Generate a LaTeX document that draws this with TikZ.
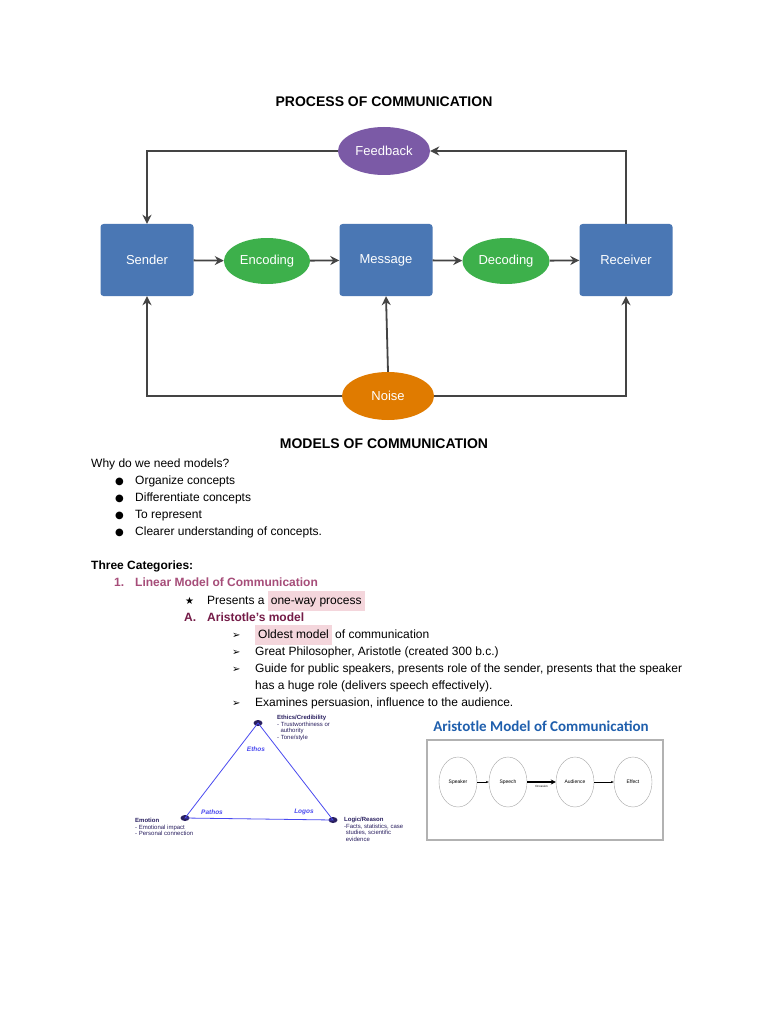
\documentclass[tikz,border=0pt]{standalone}
\usepackage{fontspec}
\setmainfont{Liberation Sans}
\newfontfamily\symf{DejaVu Sans}
\newfontfamily\calf{Carlito}
\usetikzlibrary{arrows.meta,shapes.geometric}
\definecolor{boxblue}{HTML}{4A77B4}
\definecolor{fbpurple}{HTML}{7B5AA6}
\definecolor{encgreen}{HTML}{3DB04B}
\definecolor{noiseorg}{HTML}{E07B00}
\definecolor{lnk}{HTML}{444444}
\definecolor{pinkt}{HTML}{A64D79}
\definecolor{darkred}{HTML}{741B47}
\definecolor{hl}{HTML}{F4D6DC}
\definecolor{tri}{HTML}{4A4AF0}
\definecolor{navy}{HTML}{2A2060}
\definecolor{titblue}{HTML}{1F5FAD}
\begin{document}
\begin{tikzpicture}[x=1pt,y=-1pt,
  box/.style={rectangle,rounded corners=3pt,fill=boxblue,text=white,minimum width=93pt,minimum height=72pt,font=\fontsize{13}{15}\selectfont},
  ell/.style={ellipse,text=white,minimum width=76pt,minimum height=46pt,font=\fontsize{13}{15}\selectfont},
  big/.style={ellipse,text=white,minimum width=92pt,minimum height=48pt,font=\fontsize{13}{15}\selectfont},
  con/.style={draw=lnk,line width=1.8pt,-{Stealth[length=9pt,width=9pt]}},
  body/.style={anchor=base west,inner sep=0pt,font=\fontsize{12}{14}\selectfont},
  sym/.style={anchor=base west,inner sep=0pt,font=\symf\fontsize{10}{12}\selectfont},
  title/.style={font=\bfseries\fontsize{14}{16}\selectfont,inner sep=0pt},
  hlt/.style={fill=hl,inner sep=1pt},
  dot/.style={ellipse,fill=navy,minimum width=9pt,minimum height=6pt,inner sep=0pt},
  tl/.style={anchor=north west,inner sep=0pt,align=left,text=navy,font=\fontsize{6}{6.5}\selectfont},
  circ/.style={ellipse,draw=gray!70,minimum width=38pt,minimum height=50pt,inner sep=0pt,font=\fontsize{5}{6}\selectfont}]
\useasboundingbox (0,0) rectangle (768,1024);
\fill[white] (0,0) rectangle (768,1024);
\node[title] (t1) at (384,102) {PROCESS OF COMMUNICATION};
% diagram
\node[big,fill=fbpurple] (fb) at (384,151) {Feedback};
\node[box] (snd) at (147,260) {Sender};
\node[ell,fill=encgreen] (enc) at (267,261) {Encoding};
\node[box] (msg) at (386,260) {Message};
\node[ell,fill=encgreen] (dec) at (506,261) {Decoding};
\node[box] (rcv) at (626,260) {Receiver};
\node[big,fill=noiseorg] (noi) at (388,396) {Noise};
\draw[con] (snd) -- (enc);
\draw[con] (enc) -- (msg);
\draw[con] (msg) -- (dec);
\draw[con] (dec) -- (rcv);
\draw[con] (fb.west) -| (snd.north);
\draw[con] (rcv.north) |- (fb.east);
\draw[con] (noi.west) -| (snd.south);
\draw[con] (noi.east) -| (rcv.south);
\draw[con] (noi.north) -- (msg.south);
\node[title] (t2) at (384,444) {MODELS OF COMMUNICATION};
% list
\node[body] (q) at (91,467) {Why do we need models?};
\foreach \y/\t [count=\i] in {484/Organize concepts,501/Differentiate concepts,518/To represent/clarify a situation,535/Clearer understanding of concepts.}{
  \node[sym] (b\i) at (115,\y) {●};
  \node[body] (l\i) at (135,\y) {\t};
}
\node[body,font=\bfseries\fontsize{12}{14}\selectfont] (tc) at (91,569) {Three Categories:};
\node[body,text=pinkt,font=\bfseries\fontsize{12}{14}\selectfont] (n1) at (114,586) {1.};
\node[body,text=pinkt,font=\bfseries\fontsize{12}{14}\selectfont] (lm) at (135,586) {Linear Model of Communication};
\node[sym] (st) at (185,604) {★};
\node[body] (p1) at (207,604) {Presents a \colorbox{hl}{\strut one-way process}};
\node[body,text=darkred,font=\bfseries\fontsize{12}{14}\selectfont] (aA) at (184,621) {A.};
\node[body,text=darkred,font=\bfseries\fontsize{12}{14}\selectfont] (am) at (207,621) {Aristotle's model};
\foreach \y/\t [count=\i] in {638/{\colorbox{hl}{\strut Oldest model} of communication},655/{Great Philosopher, Aristotle (created 300 b.c.)},672/{Guide for public speakers, presents role of the sender, presents that the speaker},706/{Examines persuasion, influence to the audience.}}{
  \node[sym] (a\i) at (232,\y) {➢};
  \node[body] (m\i) at (255,\y) {\t};
}
\node[body] (m5) at (255,689) {has a huge role (delivers speech effectively).};
% triangle
\node[dot] (vt) at (258,723) {};
\node[dot] (vl) at (185,818) {};
\node[dot] (vr) at (333,820) {};
\draw[tri,line width=0.8pt] (vt.center) -- (vl.center) -- (vr.center) -- cycle;
\node[inner sep=0pt,text=tri,font=\bfseries\itshape\fontsize{6.5}{7}\selectfont] (eth) at (256,749) {Ethos};
\node[inner sep=0pt,text=tri,font=\bfseries\itshape\fontsize{6.5}{7}\selectfont] (pat) at (212,812) {Pathos};
\node[inner sep=0pt,text=tri,font=\bfseries\itshape\fontsize{6.5}{7}\selectfont] (log) at (304,812) {Logos};
\node[tl] (te) at (277,715) {\textbf{Ethics/Credibility}\\- Trustworthiness or\\\ \ authority\\- Tone/style};
\node[tl] (tp) at (135,818) {\textbf{Emotion}\\- Emotional impact\\- Personal connection};
\node[tl] (tr) at (344,817) {\textbf{Logic/Reason}\\-Facts, statistics, case\\\ studies, scientific\\\ evidence};
% Aristotle model image
\node[inner sep=0pt,text=titblue,font=\calf\bfseries\fontsize{15}{17}\selectfont] (at) at (541,726) {Aristotle Model of Communication};
\draw[gray!60,line width=1.5pt] (427,740) rectangle (663,840);
\node[circ] (c1) at (458,782) {Speaker};
\node[circ] (c2) at (508,782) {Speech};
\node[circ] (c3) at (575,782) {Audience};
\node[circ] (c4) at (633,782) {Effect};
\draw[-{Stealth[length=3pt]},line width=0.5pt] (c1) -- (c2);
\draw[-{Stealth[length=5pt,width=5pt]},line width=1.5pt] (c2) -- node[below=3pt,inner sep=0pt,font=\fontsize{3}{4}\selectfont] {Occasion} (c3);
\draw[-{Stealth[length=3pt]},line width=0.5pt] (c3) -- (c4);
\end{tikzpicture}
\end{document}
